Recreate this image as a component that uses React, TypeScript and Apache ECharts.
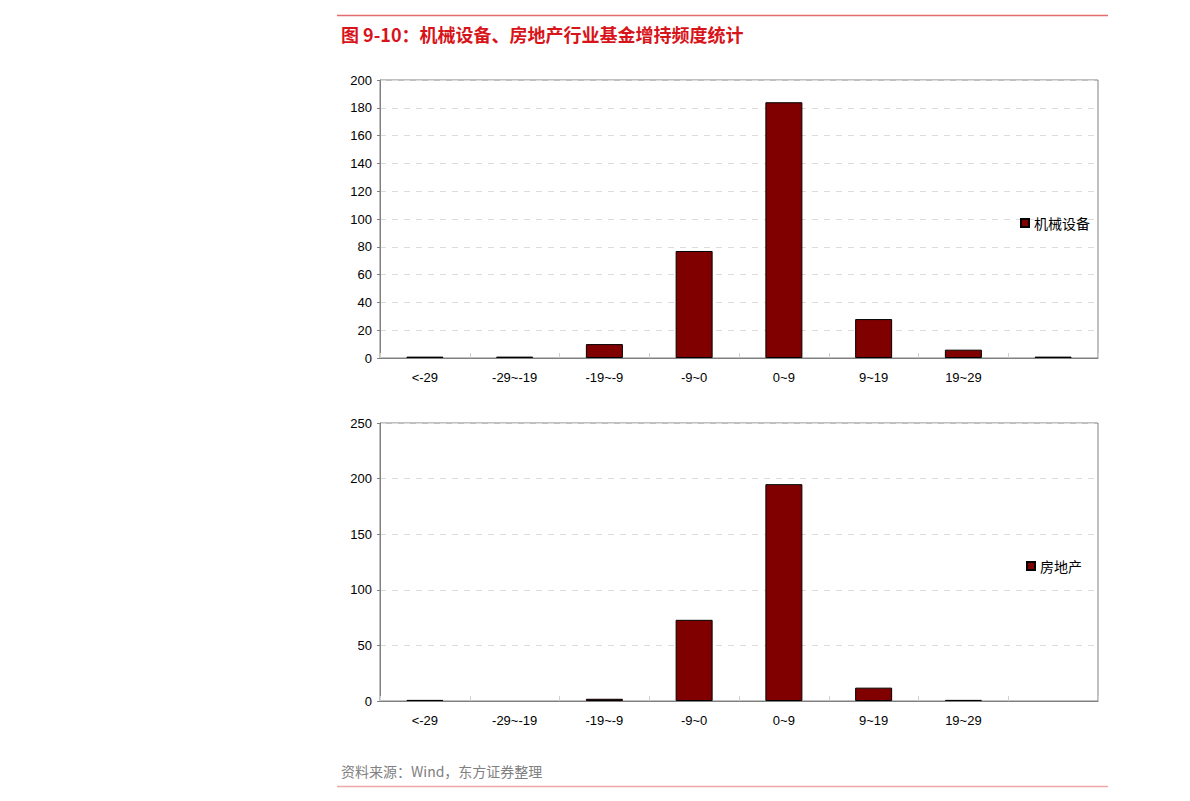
import React, { useEffect, useRef } from "react";
import * as echarts from "echarts";

const categories = ["<-29", "-29~-19", "-19~-9", "-9~0", "0~9", "9~19", "19~29", ""];
const machineryValues = [1, 1, 10, 77, 184, 28, 6, 1];
const realEstateValues = [1, 0, 2, 73, 195, 12, 1, 0];
const seriesNames = ["机械设备", "房地产"];
const titleText = "图 9-10：机械设备、房地产行业基金增持频度统计";
const sourceText = "资料来源：Wind，东方证券整理";

export default function App() {
  const ref = useRef<HTMLDivElement>(null);
  useEffect(() => {
    const chart = echarts.init(ref.current!, null, { renderer: "svg" });
    const font = "Liberation Sans, Arial, sans-serif";
    const toBars = (vals: number[]) => vals.map((v) => (v === 0 ? "-" : v));
    const xAxisBase = (gridIndex: number) => ({
      type: "category",
      gridIndex,
      data: categories,
      axisLine: { lineStyle: { color: "#808080", width: 1 } },
      axisTick: { show: true, inside: true, length: 5, lineStyle: { color: "#d0d0d0" } },
      axisLabel: { color: "#000", fontSize: 13, fontFamily: font, margin: 13, interval: 0 },
    });
    const yAxisBase = (gridIndex: number, max: number, interval: number) => ({
      type: "value",
      gridIndex,
      min: 0,
      max,
      interval,
      axisLine: { show: true, lineStyle: { color: "#808080", width: 1 } },
      axisTick: { show: true, length: 3, lineStyle: { color: "#808080" } },
      axisLabel: { color: "#000", fontSize: 13, fontFamily: font, margin: 8 },
      splitLine: { show: true, lineStyle: { color: "#dcdcdc", type: [6, 6] } },
    });
    const legendBase = {
      orient: "vertical",
      itemWidth: 8,
      itemHeight: 8,
      itemGap: 4,
      textStyle: { color: "#000", fontSize: 14, fontFamily: "Noto Sans CJK SC" },
      icon: "rect",
    };
    chart.setOption({
      animation: false,
      backgroundColor: "#fff",
      grid: [
        { left: 380, top: 80, width: 718, height: 278, show: true, borderColor: "#808080", borderWidth: 1 },
        { left: 380, top: 423, width: 718, height: 278, show: true, borderColor: "#808080", borderWidth: 1 },
      ],
      xAxis: [xAxisBase(0), xAxisBase(1)],
      yAxis: [yAxisBase(0, 200, 20), yAxisBase(1, 250, 50)],
      legend: [
        { ...legendBase, data: [seriesNames[0]], left: 1015, top: 211 },
        { ...legendBase, data: [seriesNames[1]], left: 1021, top: 554 },
      ],
      series: [
        {
          name: seriesNames[0],
          type: "bar",
          xAxisIndex: 0,
          yAxisIndex: 0,
          data: toBars(machineryValues),
          barWidth: 37,
          itemStyle: { color: "#800000", borderColor: "#000", borderWidth: 1 },
        },
        {
          name: seriesNames[1],
          type: "bar",
          xAxisIndex: 1,
          yAxisIndex: 1,
          data: toBars(realEstateValues),
          barWidth: 37,
          itemStyle: { color: "#800000", borderColor: "#000", borderWidth: 1 },
        },
      ],
      graphic: [
        { type: "line", shape: { x1: 337, y1: 15.5, x2: 1108, y2: 15.5 }, style: { stroke: "#e46c6c", lineWidth: 1.5 } },
        {
          type: "text",
          x: 341,
          y: 25,
          style: { text: titleText, fill: "#d7141a", fontSize: 18, fontWeight: "bold", fontFamily: "Noto Sans CJK SC" },
        },
        {
          type: "text",
          x: 341,
          y: 764,
          style: { text: sourceText, fill: "#808080", fontSize: 14, fontFamily: "Noto Sans CJK SC" },
        },
        { type: "line", shape: { x1: 337, y1: 786.5, x2: 1108, y2: 786.5 }, style: { stroke: "#f0a8a8", lineWidth: 1.5 } },
      ],
    });
    return () => chart.dispose();
  }, []);
  return (
    <div
      ref={ref}
      style={{ position: "fixed", left: 0, top: 0, width: 1190, height: 801, background: "#fff" }}
    />
  );
}
